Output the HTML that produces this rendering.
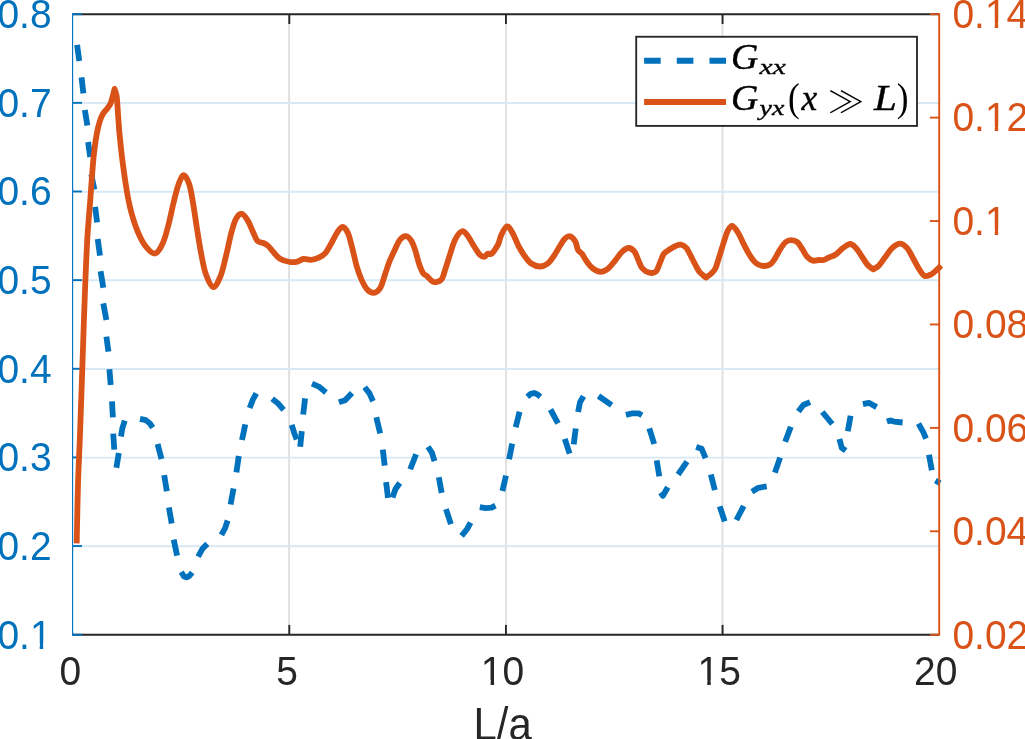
<!DOCTYPE html>
<html><head><meta charset="utf-8"><title>Figure</title>
<style>html,body{margin:0;padding:0;background:#fff;overflow:hidden}svg{display:block}text{font-family:"Liberation Sans",sans-serif}.m text{font-family:"Liberation Serif","DejaVu Serif",serif;font-style:italic;stroke:#000;stroke-width:0.4px}.m text.u{font-style:normal;stroke:none}.m text.s{font-family:"Noto Sans CJK SC","DejaVu Sans",sans-serif;font-style:normal;font-weight:300;stroke:none}</style></head><body>
<svg width="1025" height="739" viewBox="0 0 1025 739">
<rect width="1025" height="739" fill="#fff"/>
<line x1="289.09" x2="289.09" y1="14.20" y2="634.70" stroke="#E0E0E0" stroke-width="1.95"/>
<line x1="505.92" x2="505.92" y1="14.20" y2="634.70" stroke="#E0E0E0" stroke-width="1.95"/>
<line x1="722.56" x2="722.56" y1="14.20" y2="634.70" stroke="#E0E0E0" stroke-width="1.95"/>
<line x1="72.65" x2="939.20" y1="546.26" y2="546.26" stroke="#D8E9F5" stroke-width="1.95"/>
<line x1="72.65" x2="939.20" y1="457.61" y2="457.61" stroke="#D8E9F5" stroke-width="1.95"/>
<line x1="72.65" x2="939.20" y1="368.97" y2="368.97" stroke="#D8E9F5" stroke-width="1.95"/>
<line x1="72.65" x2="939.20" y1="280.33" y2="280.33" stroke="#D8E9F5" stroke-width="1.95"/>
<line x1="72.65" x2="939.20" y1="191.69" y2="191.69" stroke="#D8E9F5" stroke-width="1.95"/>
<line x1="72.65" x2="939.20" y1="103.04" y2="103.04" stroke="#D8E9F5" stroke-width="1.95"/>
<g stroke="#262626" stroke-width="1.9" fill="none">
<line x1="72.65" x2="939.20" y1="14.20" y2="14.20"/>
<line x1="72.65" x2="939.20" y1="634.70" y2="634.70"/>
<line x1="289.29" x2="289.29" y1="634.70" y2="624.90"/>
<line x1="289.29" x2="289.29" y1="14.20" y2="24.00"/>
<line x1="505.92" x2="505.92" y1="634.70" y2="624.90"/>
<line x1="505.92" x2="505.92" y1="14.20" y2="24.00"/>
<line x1="722.56" x2="722.56" y1="634.70" y2="624.90"/>
<line x1="722.56" x2="722.56" y1="14.20" y2="24.00"/>
</g>
<line x1="72.60" x2="72.60" y1="13.30" y2="635.60" stroke="#0072BD" stroke-width="1.15"/>
<g stroke="#0072BD" stroke-width="1.9" fill="none">
<line x1="72.05" x2="81.95" y1="634.70" y2="634.70"/>
<line x1="72.05" x2="81.95" y1="546.06" y2="546.06"/>
<line x1="72.05" x2="81.95" y1="457.41" y2="457.41"/>
<line x1="72.05" x2="81.95" y1="368.77" y2="368.77"/>
<line x1="72.05" x2="81.95" y1="280.13" y2="280.13"/>
<line x1="72.05" x2="81.95" y1="191.49" y2="191.49"/>
<line x1="72.05" x2="81.95" y1="102.84" y2="102.84"/>
<line x1="72.05" x2="81.95" y1="14.20" y2="14.20"/>
</g>
<g fill="none" stroke="#0072BD" stroke-width="5.8" stroke-linejoin="round">
<path d="M77.1 44.8L79.3 61.0"/>
<path d="M81.5 77.3L83.4 93.4"/>
<path d="M84.8 110.0L87.4 125.6"/>
<path d="M88.1 142.0L90.2 157.0"/>
<path d="M91.3 174.5L94.4 189.5"/>
<path d="M95.1 206.8L97.1 222.4"/>
<path d="M97.7 239.0L100.0 255.6"/>
<path d="M100.6 271.2L103.3 287.8"/>
<path d="M103.3 303.4L106.4 320.0"/>
<path d="M106.4 336.6L108.4 351.7"/>
<path d="M109.4 369.3L110.7 384.9"/>
<path d="M112.0 401.3L112.9 417.4"/>
<path d="M113.2 433.6L114.3 449.6"/>
<path d="M116.4 467.8L118.8 453.0"/>
<path d="M121.0 436.5L122.3 428.3L124.8 420.6"/>
<path d="M140.0 418.9L145.9 420.1L149.8 423.4L152.7 427.7"/>
<path d="M157.6 443.9L161.5 458.9"/>
<path d="M164.2 475.1L166.8 491.3"/>
<path d="M168.9 507.4L171.7 523.6"/>
<path d="M173.7 539.6L177.1 555.6"/>
<path d="M181.2 572.0L184.0 576.5L186.4 577.3L189.3 576.0L192.2 572.5"/>
<path d="M198.1 556.6L202.4 548.8L207.3 543.9"/>
<path d="M221.4 534.9L225.1 528.1L227.6 520.5"/>
<path d="M230.6 504.5L233.5 488.4"/>
<path d="M236.4 472.3L238.8 456.0"/>
<path d="M242.0 440.0L245.3 424.4"/>
<path d="M249.7 408.1L253.0 399.3L256.3 393.4"/>
<path d="M272.2 398.8L277.8 403.2L283.6 409.9"/>
<path d="M291.7 424.8L294.4 433.4L296.7 439.6"/>
<path d="M300.2 446.7L301.8 431.1"/>
<path d="M303.2 414.5L305.1 398.3"/>
<path d="M312.0 383.7L318.8 386.6L326.0 392.4"/>
<path d="M338.9 402.2L345.1 400.2L352.0 393.0"/>
<path d="M364.6 387.2L369.5 393.4L373.0 401.2"/>
<path d="M376.3 417.2L380.2 433.4"/>
<path d="M382.8 449.6L384.7 465.6"/>
<path d="M386.1 482.2L388.0 497.8"/>
<path d="M392.5 497.5L395.5 489.0L399.8 483.0"/>
<path d="M410.2 469.3L416.1 454.2"/>
<path d="M428.0 446.7L432.0 452.9L434.5 461.1"/>
<path d="M438.8 477.3L441.7 492.9"/>
<path d="M446.0 509.1L450.9 524.1"/>
<path d="M461.6 535.9L467.1 529.0L470.6 522.6"/>
<path d="M479.8 507.2L485.6 508.1L491.5 507.6L495.4 505.6"/>
<path d="M502.4 491.0L506.0 475.7"/>
<path d="M509.1 459.3L512.2 443.6"/>
<path d="M515.7 427.2L519.6 411.8"/>
<path d="M527.3 396.7L530.8 393.8L534.1 393.0L537.5 394.4L540.4 396.7"/>
<path d="M550.5 409.5L558.0 423.4"/>
<path d="M564.8 438.8L569.6 453.7"/>
<path d="M573.7 444.4L575.7 428.5"/>
<path d="M578.1 412.0L580.0 402.2L583.5 396.3"/>
<path d="M598.5 396.0L611.6 405.1"/>
<path d="M625.9 414.9L632.7 413.3L638.5 413.3L642.0 415.3"/>
<path d="M649.3 428.4L654.2 444.0"/>
<path d="M656.7 460.4L659.3 476.4"/>
<path d="M660.7 492.6L662.9 495.8L667.8 487.3"/>
<path d="M678.1 474.5L687.0 461.6"/>
<path d="M696.2 446.9L701.7 448.8L705.6 458.1"/>
<path d="M710.9 474.5L714.8 490.1"/>
<path d="M719.7 506.3L724.7 521.4"/>
<path d="M736.4 520.0L743.7 506.0"/>
<path d="M751.9 491.7L758.3 487.8L766.7 486.4"/>
<path d="M774.9 472.6L780.1 457.6"/>
<path d="M785.2 441.8L790.8 426.8"/>
<path d="M798.4 411.5L803.3 405.0L810.1 402.1"/>
<path d="M822.3 412.0L832.3 424.0"/>
<path d="M839.4 439.1L841.8 447.9L845.7 450.7"/>
<path d="M847.8 431.3L850.6 415.7"/>
<path d="M862.9 404.1L868.8 402.8L876.6 407.1"/>
<path d="M886.9 421.6L890.5 420.4L894.0 421.6L902.6 422.5"/>
<path d="M918.5 423.7L923.4 432.4L926.0 438.7"/>
<path d="M929.0 454.7L931.8 470.3"/>
<path d="M935.4 480.6L940.1 483.3"/>
</g>
<g stroke="#D95319" stroke-width="1.9" fill="none">
<line x1="939.20" x2="939.20" y1="13.30" y2="635.60"/>
<line x1="939.20" x2="929.90" y1="634.70" y2="634.70"/>
<line x1="939.20" x2="929.90" y1="531.28" y2="531.28"/>
<line x1="939.20" x2="929.90" y1="427.87" y2="427.87"/>
<line x1="939.20" x2="929.90" y1="324.45" y2="324.45"/>
<line x1="939.20" x2="929.90" y1="221.03" y2="221.03"/>
<line x1="939.20" x2="929.90" y1="117.62" y2="117.62"/>
<line x1="939.20" x2="929.90" y1="14.20" y2="14.20"/>
</g>
<path d="M76.7 543.4C76.9 533.5 77.5 501.2 78.0 484.0C78.5 466.8 79.2 455.3 79.8 440.0C80.4 424.7 80.9 408.3 81.5 392.0C82.1 375.7 82.6 359.8 83.2 342.0C83.8 324.2 84.5 302.2 85.2 285.0C85.9 267.8 86.5 253.2 87.3 239.0C88.1 224.8 89.5 210.1 90.3 199.8C91.1 189.5 91.3 185.2 91.9 177.4C92.5 169.6 93.2 160.4 94.0 153.1C94.8 145.8 95.8 139.0 96.8 133.6C97.8 128.2 98.9 124.0 100.0 120.6C101.1 117.2 102.1 115.3 103.3 113.3C104.5 111.3 106.1 110.0 107.3 108.4C108.5 106.8 109.7 105.4 110.6 103.5C111.5 101.6 111.8 99.4 112.5 97.0C113.2 94.6 113.9 91.6 114.6 88.9C115.3 91.6 116.2 93.1 116.8 97.0C117.3 100.9 117.5 106.4 117.9 112.5C118.4 118.6 118.8 126.3 119.5 133.6C120.2 140.9 121.0 148.5 121.9 156.3C122.9 164.1 124.1 173.3 125.2 180.6C126.3 187.8 127.3 194.3 128.4 199.8C129.5 205.3 130.2 208.6 131.7 213.8C133.2 219.1 135.3 225.9 137.6 231.3C139.9 236.7 142.5 242.3 145.4 246.0C148.3 249.7 152.2 254.0 155.1 253.5C158.0 253.0 160.6 248.0 162.9 243.0C165.2 238.0 167.0 230.3 168.8 223.5C170.6 216.7 172.1 208.6 173.7 202.1C175.3 195.6 176.8 189.0 178.5 184.5C180.2 180.0 182.0 175.1 183.8 175.1C185.6 175.1 187.7 179.7 189.3 184.5C190.9 189.3 191.9 196.5 193.2 204.0C194.5 211.5 195.8 221.3 197.1 229.4C198.4 237.5 199.5 245.3 201.0 252.8C202.5 260.3 203.8 268.6 205.9 274.3C208.0 280.0 210.9 286.9 213.3 287.2C215.7 287.5 218.3 281.6 220.5 276.2C222.7 270.8 224.5 261.9 226.3 254.8C228.1 247.7 229.6 239.3 231.2 233.3C232.8 227.3 234.3 221.9 236.1 218.7C237.9 215.4 240.1 213.5 242.0 213.8C243.9 214.1 246.0 217.7 247.8 220.6C249.6 223.5 251.1 227.9 252.7 231.3C254.3 234.7 255.8 239.2 257.6 241.1C259.4 243.0 261.6 242.2 263.4 243.0C265.2 243.8 266.7 244.5 268.3 246.0C269.9 247.5 271.2 249.7 273.2 251.8C275.1 253.9 277.2 257.0 280.0 258.7C282.8 260.4 286.9 261.5 289.8 262.0C292.7 262.5 295.3 262.1 297.6 261.6C299.9 261.1 301.1 259.3 303.4 259.0C305.7 258.7 308.6 260.0 311.2 259.8C313.8 259.6 316.4 258.9 318.8 257.7C321.2 256.5 323.5 255.2 325.6 252.8C327.7 250.4 329.6 246.4 331.5 243.0C333.4 239.6 335.4 235.0 337.3 232.3C339.2 229.6 341.0 226.8 342.8 227.0C344.6 227.2 346.5 230.0 348.0 233.3C349.5 236.6 350.5 241.5 352.0 247.0C353.5 252.5 355.2 261.0 356.8 266.5C358.4 272.0 359.9 276.2 361.7 280.1C363.5 284.0 365.6 287.8 367.6 289.9C369.7 292.0 371.9 293.1 374.0 292.8C376.1 292.5 378.3 291.0 380.2 287.9C382.1 284.8 383.6 278.5 385.1 274.3C386.6 270.1 387.5 266.4 389.0 262.6C390.5 258.9 392.1 255.6 393.9 251.8C395.7 248.1 397.8 242.7 399.8 240.1C401.8 237.5 404.1 236.0 406.0 236.2C407.9 236.4 409.9 238.6 411.5 241.1C413.1 243.6 414.1 247.0 415.4 250.9C416.7 254.8 418.0 260.8 419.3 264.5C420.6 268.2 421.9 271.4 423.2 273.3C424.5 275.2 425.6 274.9 427.1 276.2C428.6 277.5 430.5 280.1 432.0 281.1C433.5 282.1 434.3 282.4 435.9 282.1C437.5 281.8 440.1 281.4 441.7 279.1C443.3 276.8 444.1 272.8 445.6 268.4C447.1 264.0 448.9 257.7 450.5 252.8C452.1 247.9 453.4 242.7 455.4 239.1C457.3 235.5 460.1 231.8 462.2 231.3C464.3 230.8 466.1 233.8 468.0 236.2C469.9 238.6 471.9 242.9 473.9 246.0C475.9 249.1 478.0 253.0 479.8 254.8C481.6 256.6 483.3 256.9 484.6 256.7C485.9 256.5 486.5 254.3 487.6 253.8C488.8 253.3 490.2 254.6 491.5 253.8C492.8 253.0 494.3 250.5 495.4 248.9C496.5 247.3 497.3 246.3 498.3 244.0C499.3 241.7 499.8 238.1 501.2 235.2C502.6 232.3 505.1 226.7 507.0 226.4C508.9 226.1 510.8 230.0 512.7 233.3C514.6 236.6 516.5 242.3 518.5 246.0C520.5 249.7 522.3 252.8 524.4 255.7C526.5 258.6 528.6 261.7 531.2 263.5C533.8 265.3 537.2 266.5 540.0 266.5C542.8 266.5 545.4 265.4 547.8 263.5C550.2 261.6 552.5 257.9 554.6 254.8C556.7 251.7 558.7 247.8 560.5 245.0C562.3 242.2 563.8 239.7 565.4 238.2C567.0 236.7 568.3 235.7 569.9 236.2C571.5 236.7 573.8 238.8 575.1 241.1C576.5 243.4 576.9 247.8 578.0 249.9C579.1 252.0 580.5 251.9 582.0 253.8C583.5 255.8 585.0 259.2 586.8 261.6C588.6 264.0 590.4 266.7 592.7 268.4C595.0 270.1 598.2 271.8 600.8 271.8C603.4 271.8 605.9 270.3 608.3 268.4C610.7 266.5 612.8 263.4 615.1 260.6C617.4 257.8 619.7 253.9 622.0 251.8C624.3 249.7 626.7 248.0 628.8 248.0C630.9 248.0 633.0 249.7 634.6 251.8C636.2 253.9 637.2 257.8 638.5 260.6C639.8 263.4 640.6 266.4 642.4 268.4C644.2 270.4 647.0 272.2 649.3 272.7C651.6 273.2 654.3 273.0 656.1 271.3C657.9 269.6 658.7 265.5 660.0 262.6C661.3 259.7 662.3 256.0 663.9 253.8C665.5 251.6 667.8 250.6 669.8 249.3C671.8 248.0 673.8 246.8 675.6 246.0C677.5 245.2 679.1 244.3 680.9 244.6C682.7 244.9 684.6 245.9 686.3 247.9C688.0 249.9 689.7 253.8 691.2 256.7C692.7 259.6 694.1 262.4 695.5 265.0C696.9 267.6 698.0 270.2 699.8 272.3C701.5 274.4 703.9 275.8 706.0 277.6C707.8 276.2 709.9 274.8 711.5 273.3C713.1 271.8 714.1 271.2 715.4 268.4C716.7 265.6 717.8 261.2 719.3 256.7C720.8 252.1 722.6 245.5 724.1 241.1C725.6 236.7 726.6 232.9 728.0 230.4C729.4 227.9 730.7 225.6 732.3 225.9C733.9 226.2 735.9 229.3 737.8 232.3C739.7 235.3 741.8 240.2 743.7 244.0C745.7 247.8 747.5 251.7 749.5 254.8C751.5 257.9 753.3 260.8 755.4 262.6C757.5 264.5 759.8 265.6 762.2 265.9C764.6 266.2 767.9 265.7 770.0 264.5C772.1 263.3 773.3 261.1 774.9 258.7C776.5 256.3 778.0 252.7 779.8 249.9C781.6 247.1 783.7 243.7 785.6 242.1C787.5 240.5 789.2 240.1 791.1 240.1C793.0 240.1 795.4 240.6 797.3 242.1C799.1 243.6 800.6 246.5 802.2 248.9C803.8 251.3 805.3 254.8 807.1 256.7C808.9 258.6 811.0 260.1 812.9 260.6C814.8 261.2 817.0 260.1 818.8 260.0C820.6 259.9 822.1 260.4 823.7 260.0C825.3 259.6 826.5 258.6 828.5 257.7C830.5 256.8 832.9 256.4 835.4 254.8C837.9 253.2 840.7 249.7 843.2 247.9C845.7 246.1 848.1 244.0 850.2 244.0C852.3 244.0 854.0 245.9 856.0 248.0C858.0 250.1 860.0 253.9 862.0 256.7C864.0 259.5 865.8 262.9 867.7 265.0C869.6 267.1 871.5 267.9 873.4 269.4C875.3 268.1 877.0 267.6 879.0 265.5C881.0 263.4 883.3 259.6 885.5 256.7C887.7 253.8 889.9 250.1 892.3 247.9C894.7 245.7 897.6 243.6 900.1 243.6C902.6 243.6 904.9 245.6 907.0 247.9C909.1 250.2 910.8 254.3 912.8 257.7C914.8 261.1 916.8 265.4 918.7 268.4C920.7 271.4 922.4 274.8 924.5 275.8C926.6 276.8 929.2 275.4 931.3 274.3C933.4 273.2 935.6 270.9 937.2 269.4C938.8 267.9 940.5 266.1 941.1 265.5" fill="none" stroke="#D95319" stroke-width="5.8" stroke-linejoin="round"/>
<g font-size="41.0" fill="#0072BD" text-anchor="end">
<text transform="translate(51.6 648.6) scale(0.951 1)">0.1</text>
<text transform="translate(51.6 560.0) scale(0.951 1)">0.2</text>
<text transform="translate(51.6 471.3) scale(0.951 1)">0.3</text>
<text transform="translate(51.6 382.7) scale(0.951 1)">0.4</text>
<text transform="translate(51.6 294.0) scale(0.951 1)">0.5</text>
<text transform="translate(51.6 205.4) scale(0.951 1)">0.6</text>
<text transform="translate(51.6 116.7) scale(0.951 1)">0.7</text>
<text transform="translate(51.6 27.7) scale(0.951 1)">0.8</text>
</g>
<g font-size="41.0" fill="#D95319" text-anchor="start">
<text transform="translate(952.4 648.5) scale(0.951 1)">0.02</text>
<text transform="translate(952.4 545.1) scale(0.951 1)">0.04</text>
<text transform="translate(952.4 441.7) scale(0.951 1)">0.06</text>
<text transform="translate(952.4 338.3) scale(0.951 1)">0.08</text>
<text transform="translate(952.4 234.8) scale(0.951 1)">0.1</text>
<text transform="translate(952.4 131.4) scale(0.951 1)">0.12</text>
<text transform="translate(952.4 27.6) scale(0.951 1)">0.14</text>
</g>
<g font-size="41.0" fill="#262626" text-anchor="middle">
<text transform="translate(70.4 685.4) scale(0.951 1)">0</text>
<text transform="translate(287.0 685.4) scale(0.951 1)">5</text>
<text transform="translate(502.5 685.4) scale(0.951 1)">10</text>
<text transform="translate(719.2 685.4) scale(0.951 1)">15</text>
<text transform="translate(935.8 685.4) scale(0.951 1)">20</text>
</g>
<text transform="translate(473.6 739.8) scale(0.912 1)" font-size="45.9" fill="#262626">L/a</text>
<rect x="31.89" y="643.34" width="7.83" height="6.46" fill="#fff"/>
<rect x="43.17" y="643.34" width="7.53" height="6.46" fill="#fff"/>
<rect x="986.89" y="229.57" width="7.83" height="6.46" fill="#fff"/>
<rect x="998.17" y="229.57" width="7.53" height="6.46" fill="#fff"/>
<rect x="986.89" y="126.15" width="7.83" height="6.46" fill="#fff"/>
<rect x="998.17" y="126.15" width="7.53" height="6.46" fill="#fff"/>
<rect x="986.89" y="22.34" width="7.83" height="6.46" fill="#fff"/>
<rect x="998.17" y="22.34" width="7.53" height="6.46" fill="#fff"/>
<rect x="482.81" y="680.14" width="7.83" height="6.46" fill="#fff"/>
<rect x="494.09" y="680.14" width="7.53" height="6.46" fill="#fff"/>
<rect x="699.45" y="680.14" width="7.83" height="6.46" fill="#fff"/>
<rect x="710.73" y="680.14" width="7.53" height="6.46" fill="#fff"/>
<rect x="636.2" y="36.75" width="280.8" height="89.15" fill="#fff" stroke="#262626" stroke-width="1.85"/>
<path d="M644.1 60.7H726" stroke="#0072BD" stroke-width="5.9" stroke-dasharray="16.6 16.1" fill="none"/>
<path d="M644.1 102H726" stroke="#D95319" stroke-width="6.0" fill="none"/>
<g fill="#000" class="m">
<text transform="translate(731.0 68.7) scale(1.050 1.010)" font-size="36">G</text>
<text transform="translate(759.6 74.0) scale(1.180 0.860)" font-size="25">xx</text>
<text transform="translate(731.0 110.1) scale(1.050 1.010)" font-size="36">G</text>
<text transform="translate(759.6 115.4) scale(1.120 0.860)" font-size="25">yx</text>
<text transform="translate(788.0 111.2) scale(0.980 1.100)" font-size="36" class="u">(</text>
<text transform="translate(801.5 110.3) scale(0.980 0.970)" font-size="36">x</text>
<text transform="translate(827.3 112.6) scale(0.935 0.755)" font-size="40" class="s">≫</text>
<text transform="translate(874.0 110.2) scale(1.140 1.000)" font-size="36">L</text>
<text transform="translate(896.8 111.2) scale(0.980 1.100)" font-size="36" class="u">)</text>
</g>
</svg></body></html>
